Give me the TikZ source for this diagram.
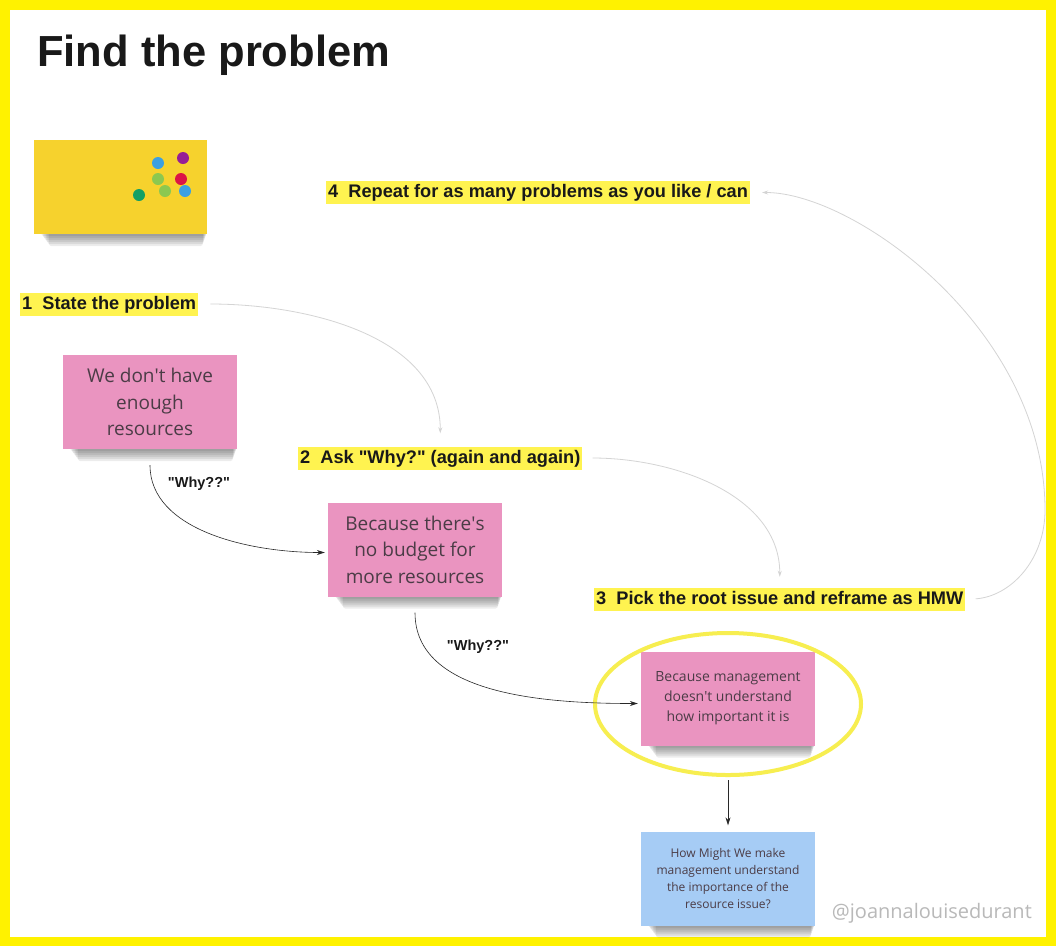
\documentclass[tikz,border=0pt]{standalone}
\usepackage{fontspec}
\setmainfont{Liberation Sans}
\newfontfamily\osans{Open Sans}
\usetikzlibrary{shapes.geometric,arrows.meta,backgrounds}
\definecolor{frameY}{RGB}{255,242,0}
\definecolor{hlY}{RGB}{255,243,80}
\definecolor{pinkN}{RGB}{234,148,192}
\definecolor{yelN}{RGB}{246,210,45}
\definecolor{blueN}{RGB}{166,204,245}
\definecolor{noteTxt}{RGB}{75,60,70}
\definecolor{elY}{RGB}{247,238,80}
\definecolor{lgArrow}{RGB}{212,212,212}
\definecolor{wmC}{RGB}{185,185,185}
\definecolor{darkA}{RGB}{40,40,40}
\definecolor{titleC}{RGB}{25,25,25}
\definecolor{dBlue}{RGB}{60,160,225}
\definecolor{dPurple}{RGB}{150,30,150}
\definecolor{dLGreen}{RGB}{140,200,80}
\definecolor{dRed}{RGB}{220,20,70}
\definecolor{dGreen}{RGB}{20,160,100}
\begin{document}
\begin{tikzpicture}[x=1pt,y=-1pt,
  hl/.style={fill=hlY, anchor=west, inner xsep=2pt, inner ysep=0pt, minimum height=23pt,
    text height=13pt, text depth=3pt, font=\fontsize{18.2}{20}\selectfont\bfseries, text=titleC},
  note/.style={minimum width=174pt, minimum height=94pt, inner sep=2pt, align=center, text=noteTxt},
  bignote/.style={note, fill=pinkN, font=\osans\fontsize{19}{26.5}\selectfont},
  smallnote/.style={note, fill=pinkN, font=\osans\fontsize{14}{20}\selectfont},
  hmwnote/.style={note, fill=blueN, font=\osans\fontsize{12}{16.7}\selectfont},
  why/.style={font=\fontsize{14.5}{16}\selectfont\bfseries, text=titleC, inner sep=0pt},
  darkarrow/.style={draw=darkA, line width=0.6pt, -{Stealth[length=8pt,width=5pt]}},
  lightarrow/.style={draw=lgArrow, line width=0.8pt, -{Stealth[length=6pt,width=4pt]}},
  dot/.style={circle, inner sep=0pt, minimum size=12pt},
  shadowpart/.style={fill=black, opacity=0.075, rounded corners=3pt}
]
\useasboundingbox (0,0) rectangle (1056,946);
\begin{scope}[on background layer]
\fill[frameY] (0,0) rectangle (1056,946);
\fill[white] (10,10) rectangle (1046,937);
\end{scope}

% title
\node[anchor=base west, inner sep=0pt, font=\fontsize{43.5}{50}\selectfont\bfseries, text=titleC] (title) at (37,66) {Find the problem};

% yellow sticky with dots
\node[minimum width=173pt, minimum height=94pt, fill=yelN, inner sep=0pt] (stickY) at (120.5,187) {};
\node[dot, fill=dBlue] (d1) at (158,163) {};
\node[dot, fill=dPurple] (d2) at (183,158) {};
\node[dot, fill=dLGreen] (d3) at (158,179) {};
\node[dot, fill=dRed] (d4) at (181,179) {};
\node[dot, fill=dGreen] (d5) at (139,195) {};
\node[dot, fill=dLGreen] (d6) at (165,191) {};
\node[dot, fill=dBlue] (d7) at (185,191) {};

% step labels
\node[hl] (l4) at (326,192.5) {4\ \ Repeat for as many problems as you like / can};
\node[hl] (l1) at (20,304) {1\ \ State the problem};
\node[hl] (l2) at (298,458) {2\ \ Ask \textquotedbl Why?\textquotedbl\ (again and again)};
\node[hl] (l3) at (594,599.5) {3\ \ Pick the root issue and reframe as HMW};

% sticky notes
\node[bignote] (n1) at (150,402) {We don\textquotesingle t have\\enough\\resources};
\node[bignote] (n2) at (415,549.5) {Because there\textquotesingle s\\no budget for\\more resources};
\node[smallnote] (n3) at (728,698.5) {Because management\\doesn\textquotesingle t understand\\how important it is};
\node[hmwnote] (n4) at (728,878.5) {How Might We make\\management understand\\the importance of the\\resource issue?};

% highlight ellipse
\node[ellipse, draw=elY, line width=4pt, minimum width=266pt, minimum height=142pt, inner sep=0pt] (el) at (728,704) {};

% soft shadows
\begin{scope}[on background layer]
\foreach \n in {stickY,n1,n2,n3,n4}{
  \foreach \i in {1,...,6}{
    \fill[shadowpart] ([xshift={(6+1.5*\i)*1pt}, yshift=3pt]\n.south west)
       rectangle ([xshift={(-0.7*\i)*1pt}, yshift={(-2*\i)*1pt}]\n.south east);
  }
}
\end{scope}

% why labels
\node[why] (w1) at (199,484) {\textquotedbl Why??\textquotedbl};
\node[why] (w2) at (478,647) {\textquotedbl Why??\textquotedbl};

% dark connectors
\draw[darkarrow, shorten <=16pt, shorten >=3pt] (n1.south) to[out=-90,in=180] ([yshift=-3pt]n2.west);
\draw[darkarrow, shorten <=16pt, shorten >=3pt] (n2.south) to[out=-90,in=180] ([yshift=-5pt]n3.west);
\draw[darkarrow, shorten <=3pt, shorten >=6pt] (el.south) -- (n4.north);

% light connectors
\coordinate (c34) at (1045,510);
\draw[lightarrow, shorten <=12pt, shorten >=13pt] (l1.east) to[out=0,in=90] (l2.north);
\draw[lightarrow, shorten <=10pt, shorten >=11pt] (l2.east) to[out=0,in=90] (l3.north);
\draw[lightarrow, shorten <=10pt, shorten >=12pt] (l3.east) .. controls +(45,-3) and +(0,50) .. (c34)
   .. controls +(0,-180) and +(105,0) .. (l4.east);

% watermark
\node[anchor=east, inner sep=0pt, font=\osans\fontsize{20}{24}\selectfont, text=wmC] (wm) at (1032,913) {@joannalouisedurant};
\end{tikzpicture}
\end{document}
